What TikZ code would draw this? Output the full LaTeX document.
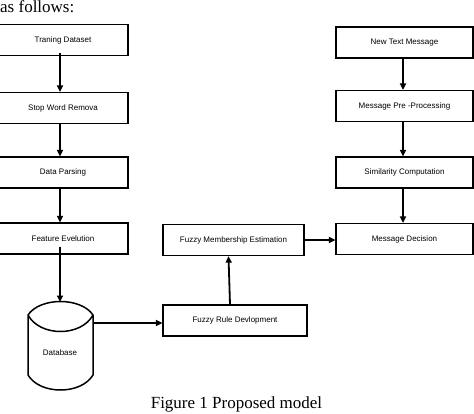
\documentclass[tikz,border=0pt]{standalone}
\usepackage{fontspec}
\setmainfont{Liberation Serif}
\newfontfamily\boxfont{Liberation Sans}
\usetikzlibrary{arrows.meta}
\begin{document}
\begin{tikzpicture}[x=1pt,y=-1pt,
  box/.style={draw, line width=1.2pt, inner sep=0pt, minimum height=31pt,
    font=\boxfont\fontsize{8}{9}\selectfont},
  lbox/.style={box, minimum width=130pt},
  rbox/.style={box, minimum width=137pt},
  arr/.style={-{Triangle[length=6.5pt,width=6pt]}, line width=1.8pt},
  cyl/.style={line width=1.5pt, line join=round},
  lbl/.style={font=\boxfont\fontsize{8}{9}\selectfont, inner sep=0pt}]
\useasboundingbox (0,0) rectangle (474,413);
% top text and caption
\node[anchor=base west, inner sep=0pt, font=\fontsize{17}{19}\selectfont] (head) at (0,12.5) {as follows:};
\node[anchor=base, inner sep=0pt, font=\fontsize{17}{19}\selectfont] (cap) at (236.5,408.5) {Figure 1 Proposed model};
% left column
\node[lbox] (td)  at (63,40)    {Traning Dataset};
\node[lbox] (swr) at (63,108)   {Stop Word Remova};
\node[lbox] (dp)  at (63,172.5) {Data Parsing};
\node[lbox] (fe)  at (63,238.5) {Feature Evelution};
% database cylinder
\draw[cyl] (28,315) .. controls (40,297) and (81,297) .. (93,315)
  .. controls (81,337) and (40,337) .. (28,315) -- (28,375)
  .. controls (40,395) and (81,395) .. (93,375) -- (93,315);
\node[lbl] (db) at (60,353) {Database};
\coordinate (dbtop) at (60,302);
\coordinate (dbright) at (93,323);
% middle
\node[box, minimum width=144pt] (frd) at (235,320.5) {Fuzzy Rule Devlopment};
\node[box, minimum width=141pt] (fme) at (233.5,240) {Fuzzy Membership Estimation};
% right column
\node[rbox] (ntm) at (404.5,42.5) {New Text Message};
\node[rbox] (mpp) at (404.5,106)  {Message Pre -Processing};
\node[rbox] (sc)  at (404.5,172.5) {Similarity Computation};
\node[rbox] (md)  at (404.5,239)  {Message Decision};
% arrows
\draw[arr] ([xshift=-3pt,yshift=3pt]td.south) -- ([xshift=-3pt]swr.north);
\draw[arr] ([xshift=-3pt]swr.south) -- ([xshift=-3pt]dp.north);
\draw[arr] ([xshift=-3pt]dp.south) -- ([xshift=-3pt]fe.north);
\draw[arr] ([xshift=-3pt,yshift=8pt]fe.south) -- (dbtop);
\draw[arr] (dbright) -- (dbright -| frd.west);
\draw[arr] ([xshift=-5pt]frd.north) -- ([xshift=-5pt]fme.south);
\draw[arr] (fme.east) -- (fme.east -| md.west);
\draw[arr] ([xshift=-1.5pt]ntm.south) -- ([xshift=-1.5pt]mpp.north);
\draw[arr] ([xshift=-1.5pt]mpp.south) -- ([xshift=-1.5pt]sc.north);
\draw[arr] ([xshift=-1.5pt]sc.south) -- ([xshift=-1.5pt]md.north);
\end{tikzpicture}
\end{document}
